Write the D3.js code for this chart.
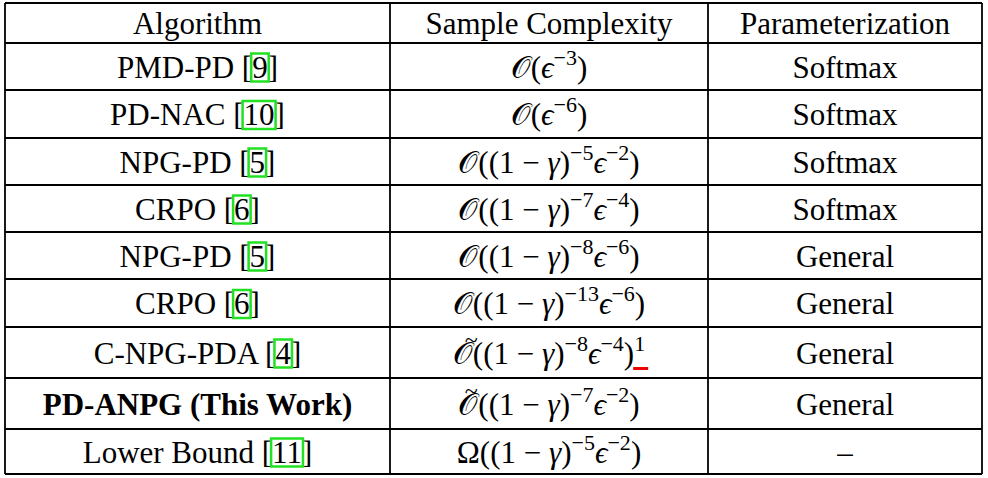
<!DOCTYPE html>
<html><head><meta charset="utf-8">
<script src="https://cdn.jsdelivr.net/npm/d3@7"></script>
<style>body{margin:0;background:#fff}</style></head>
<body><svg id="c" width="988" height="478"></svg>
<script>
const headers = ["Algorithm", "Sample Complexity", "Parameterization"];
const algorithms = ["PMD-PD", "PD-NAC", "NPG-PD", "CRPO", "NPG-PD", "CRPO", "C-NPG-PDA", "PD-ANPG (This Work)", "Lower Bound"];
const refs = ["9", "10", "5", "6", "5", "6", "4", null, "11"];
const boundSym = ["O", "O", "O", "O", "O", "O", "Ot", "Ot", "W"];
const gammaExp = [null, null, "5", "7", "8", "13", "8", "7", "5"];
const epsExp = ["3", "6", "2", "4", "6", "6", "4", "2", "2"];
const footnote = [null, null, null, null, null, null, "1", null, null];
const params = ["Softmax", "Softmax", "Softmax", "Softmax", "General", "General", "General", "General", "–"];

const svg = d3.select("#c");
const rowEdges = [3, 43, 90, 138, 185, 232, 279, 327, 378, 429, 474];
const colEdges = [5, 390, 708, 982];
const FONT = "'Liberation Serif','DejaVu Serif',serif";
const y = i => (rowEdges[i] + rowEdges[i + 1]) / 2 + 11;
const cx = j => (colEdges[j] + colEdges[j + 1]) / 2;

rowEdges.forEach(r => svg.append("line").attr("x1", colEdges[0]).attr("x2", colEdges[3]).attr("y1", r).attr("y2", r).attr("stroke", "#000").attr("stroke-width", 1.8));
colEdges.forEach(c => svg.append("line").attr("x1", c).attr("x2", c).attr("y1", rowEdges[0]).attr("y2", rowEdges[10]).attr("stroke", "#000").attr("stroke-width", 1.8));

const base = (sel) => sel.attr("font-family", FONT).attr("font-size", 31).attr("fill", "#000").attr("text-anchor", "middle");
headers.forEach((h, j) => base(svg.append("text")).attr("x", cx(j)).attr("y", y(0)).text(h));

algorithms.forEach((a, i) => {
  const t = base(svg.append("text")).attr("x", cx(0)).attr("y", y(i + 1));
  if (refs[i] == null) { t.attr("font-weight", "bold").text(a); return; }
  t.append("tspan").text(a + " [");
  const r = t.append("tspan").text(refs[i]);
  t.append("tspan").text("]");
  const node = r.node();
  const p = node.getStartPositionOfChar(0), w = node.getComputedTextLength();
  svg.append("rect").attr("x", p.x - 1).attr("y", y(i + 1) - 24).attr("width", w + 2).attr("height", 28)
    .attr("fill", "none").attr("stroke", "#22e022").attr("stroke-width", 2.5);
});

boundSym.forEach((s, i) => {
  const yy = y(i + 1);
  const t = base(svg.append("text")).attr("x", cx(1)).attr("y", yy);
  const sym = s === "W" ? "Ω" : "𝒪";
  const first = t.append("tspan").text(sym + "(");
  const sup = (txt) => t.append("tspan").attr("font-size", 22).attr("dy", -13).text(txt);
  const down = () => t.append("tspan").attr("dy", 13);
  if (gammaExp[i] != null) {
    t.append("tspan").text("(1 − ");
    t.append("tspan").attr("font-style", "italic").text("γ");
    t.append("tspan").text(")");
    sup("−" + gammaExp[i]);
    down().attr("font-style", "italic").text("ϵ");
  } else {
    t.append("tspan").attr("font-style", "italic").text("ϵ");
  }
  sup("−" + epsExp[i]);
  down().text(")");
  if (s === "Ot") {
    const n = first.node(), p = n.getStartPositionOfChar(0), ex = n.getExtentOfChar(0);
    svg.append("text").attr("font-family", FONT).attr("font-size", 24).attr("text-anchor", "middle")
      .attr("x", p.x + ex.width / 2 + 3).attr("y", yy - 16).text("~");
  }
  if (footnote[i]) {
    const f = sup(footnote[i]);
    const n = f.node(), p = n.getStartPositionOfChar(0), w = n.getComputedTextLength();
    svg.append("line").attr("x1", p.x - 1).attr("x2", p.x + w + 3).attr("y1", yy + 5).attr("y2", yy + 5)
      .attr("stroke", "#e00").attr("stroke-width", 3);
  }
});

params.forEach((p, i) => base(svg.append("text")).attr("x", cx(2)).attr("y", y(i + 1)).text(p));
</script></body></html>
